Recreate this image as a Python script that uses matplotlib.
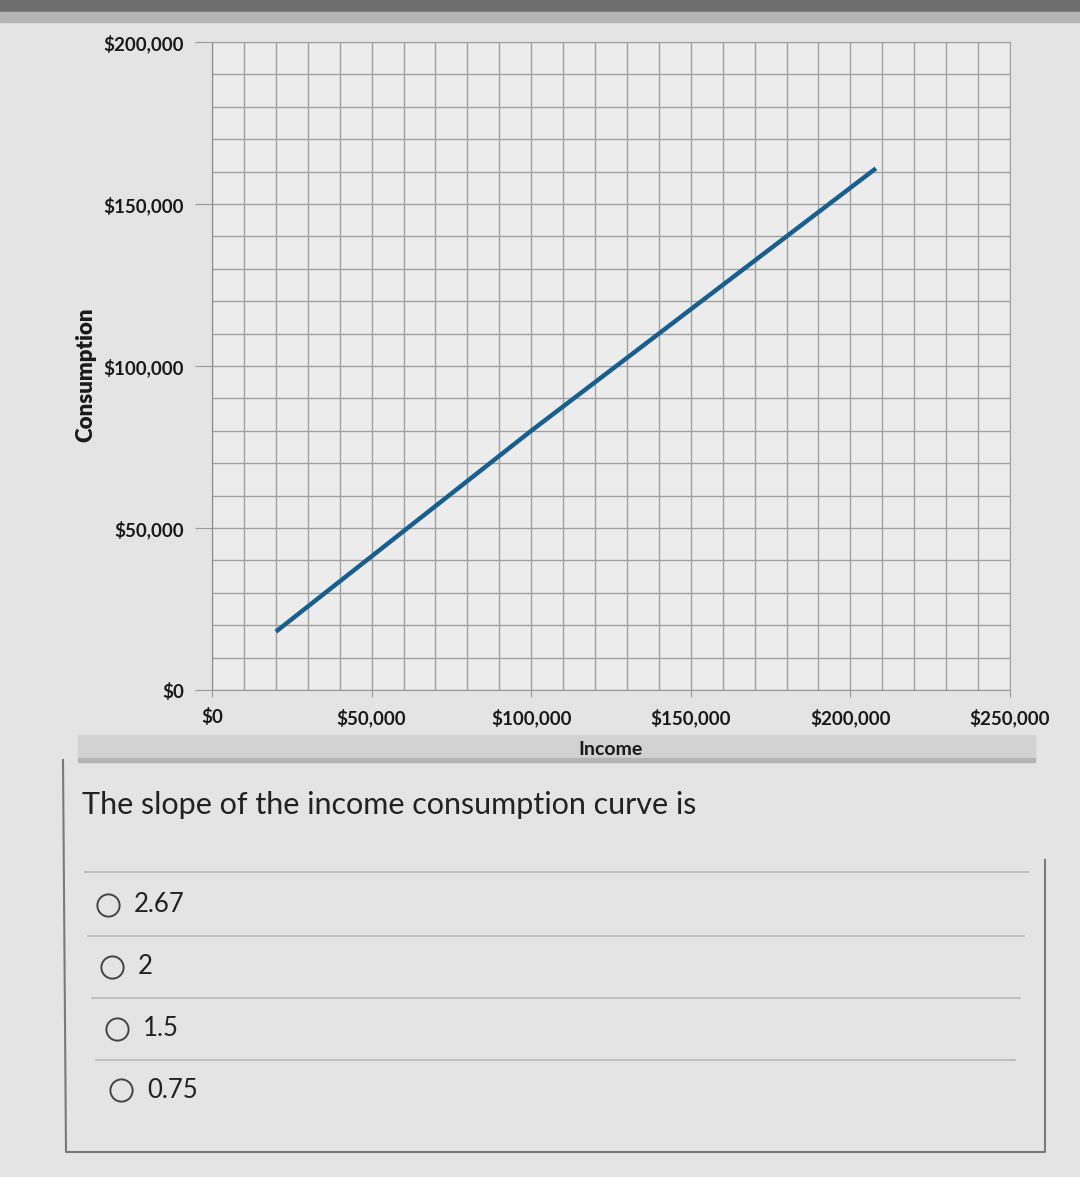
import matplotlib.pyplot as plt
from matplotlib.lines import Line2D
from matplotlib.patches import Rectangle

# values
income = [20000, 100000, 208000]
consumption = [18000, 80000, 161000]
x_ticks = [0, 50000, 100000, 150000, 200000, 250000]
x_labels = ["$0", "$50,000", "$100,000", "$150,000", "$200,000", "$250,000"]
y_ticks = [0, 50000, 100000, 150000, 200000]
y_labels = ["$0", "$50,000", "$100,000", "$150,000", "$200,000"]
question = "The slope of the income consumption curve is"
options = ["2.67", "2", "1.5", "0.75"]

W, H = 1080, 1177


def fx(x):
    return x / W


def fy(y):
    return 1 - y / H


fig = plt.figure(figsize=(W / 100, H / 100), dpi=100, facecolor="#e4e4e4")

# dark edge of the monitor at the top of the photo
fig.add_artist(Rectangle((0, fy(12)), 1, 12 / H, transform=fig.transFigure,
                         color="#6e6e6e", zorder=0))
fig.add_artist(Rectangle((0, fy(22)), 1, 10 / H, transform=fig.transFigure,
                         color="#b4b4b4", zorder=0))

# grey band under the chart
fig.add_artist(Rectangle((fx(78), fy(762)), fx(1035) - fx(78), 27 / H,
                         transform=fig.transFigure, color="#d2d2d2", zorder=0))
fig.add_artist(Rectangle((fx(78), fy(762)), fx(1035) - fx(78), 4 / H,
                         transform=fig.transFigure, color="#b5b5b5", zorder=0))

ax = fig.add_axes([fx(212), fy(690), fx(1010) - fx(212), (690 - 42) / H])
ax.set_facecolor("#ececec")
ax.plot(income, consumption, color="#195f8e", lw=3.2, solid_capstyle="butt", zorder=3)

ax.set_xlim(0, 250000)
ax.set_ylim(0, 200000)
ax.set_xticks(x_ticks)
ax.set_xticklabels(x_labels)
ax.set_yticks(y_ticks)
ax.set_yticklabels(y_labels)
ax.set_xticks(range(0, 250001, 10000), minor=True)
ax.set_yticks(range(0, 200001, 10000), minor=True)
ax.grid(which="both", color="#a0a0a0", lw=1.0)
ax.set_axisbelow(True)
ax.tick_params(which="minor", length=0)
ax.tick_params(axis="y", which="major", length=12, color="#999999", pad=8)
ax.tick_params(axis="x", which="major", length=5, color="#999999", pad=8)
for lab in ax.get_xticklabels() + ax.get_yticklabels():
    lab.set_fontfamily("Lato")
    lab.set_fontweight("bold")
    lab.set_fontsize(13.5)
    lab.set_color("#1a1a1a")
for side in ["top", "right"]:
    ax.spines[side].set_color("#a0a0a0")
ax.spines["left"].set_color("#8c8c8c")
ax.spines["bottom"].set_color("#999999")

ax.set_xlabel("Income", fontfamily="Lato", fontweight="bold", fontsize=14,
              color="#1a1a1a", labelpad=10)
fig.text(fx(86), fy(375), "Consumption", rotation=90, ha="center", va="center",
         fontfamily="Lato", fontweight="heavy", fontsize=16, color="#1a1a1a")

# question part of the page
fig.text(fx(82), fy(805), question, ha="left", va="center", fontfamily="Lato",
         fontsize=22, color="#222222")

for y0, x0, x1 in [(872, 85, 1028), (936, 88, 1024), (998, 92, 1020), (1060, 96, 1015)]:
    fig.add_artist(Line2D([fx(x0), fx(x1)], [fy(y0), fy(y0)], transform=fig.transFigure,
                          color="#b8b8b8", lw=1.2))

opt_y = [905, 967, 1029, 1090]
opt_x = [108, 112, 117, 121]
for lab, yy, xx in zip(options, opt_y, opt_x):
    fig.add_artist(Line2D([fx(xx)], [fy(yy)], transform=fig.transFigure, marker="o",
                          markersize=16, mfc="none", mec="#444444", mew=1.4))
    fig.text(fx(xx + 26), fy(yy), lab, ha="left", va="center", fontfamily="Lato",
             fontsize=18.5, color="#222222")

# frame round the answer box
fig.add_artist(Line2D([fx(63), fx(66), fx(1045), fx(1045)],
                      [fy(760), fy(1152), fy(1152), fy(860)],
                      transform=fig.transFigure, color="#7a7a7a", lw=1.5))

plt.savefig("out.png", dpi=100, facecolor=fig.get_facecolor())
